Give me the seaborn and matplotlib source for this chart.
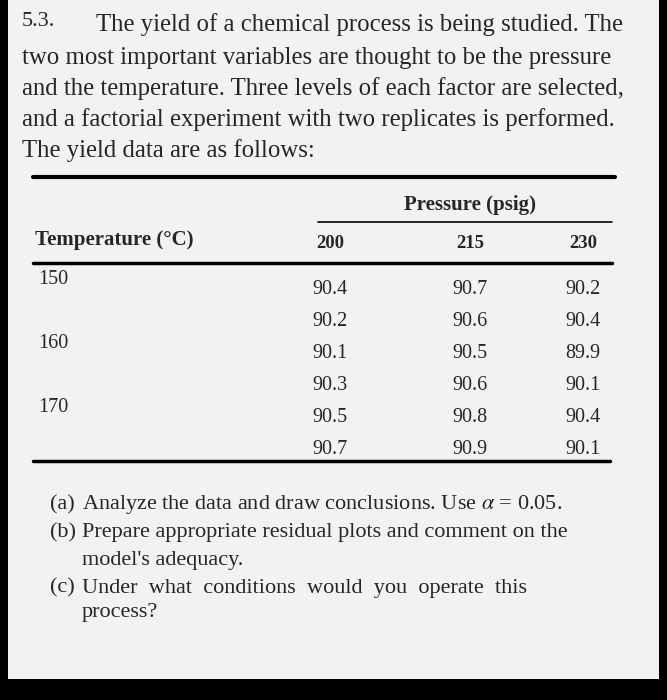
import matplotlib
matplotlib.use("Agg")
import matplotlib.pyplot as plt
import seaborn as sns

# problem text
intro = ["The yield of a chemical process is being studied. The",
         "two most important variables are thought to be the pressure",
         "and the temperature. Three levels of each factor are selected,",
         "and a factorial experiment with two replicates is performed.",
         "The yield data are as follows:"]
questions = [("(a)", "Analyze the data and draw conclusions. Use $\\alpha$ = 0.05."),
             ("(b)", "Prepare appropriate residual plots and comment on the"),
             ("", "model's adequacy."),
             ("(c)", "Under  what  conditions  would  you  operate  this"),
             ("", "process?")]

# table data
pressures = ["200", "215", "230"]
temperatures = ["150", "160", "170"]
yield_200 = [90.4, 90.2, 90.1, 90.3, 90.5, 90.7]
yield_215 = [90.7, 90.6, 90.5, 90.6, 90.8, 90.9]
yield_230 = [90.2, 90.4, 89.9, 90.1, 90.4, 90.1]

sns.set_theme(style="white")
plt.rcParams['font.family'] = ['Liberation Serif', 'DejaVu Serif']
plt.rcParams['mathtext.fontset'] = 'stix'

fig = plt.figure(figsize=(6.67, 7.0), dpi=100, facecolor="black")
ax = fig.add_axes([0.012, 0.03, 0.976, 0.97])
ax.set_facecolor("#f2f2f0")
ax.set_xlim(8, 659)
ax.set_ylim(679, 0)
ax.set_xticks([])
ax.set_yticks([])
for s in ax.spines.values():
    s.set_visible(False)

fs = 17.8
ax.text(22, 22, "5.3.", fontsize=16, va="center")
ax.text(96, 25, intro[0], fontsize=fs, va="center")
for i, line in enumerate(intro[1:]):
    ax.text(22, 58 + i * 31, line, fontsize=fs, va="center")

# table rules
ax.plot([33, 615], [177, 177], color="black", lw=3)
ax.plot([318, 612], [222, 222], color="black", lw=1.2)
ax.plot([33, 612], [263, 263], color="black", lw=2.5)
ax.plot([33, 610], [461, 461], color="black", lw=2.5)

ax.text(470, 205, "Pressure (psig)", fontsize=15, fontweight="bold", ha="center", va="center")
ax.text(35, 240, "Temperature (°C)", fontsize=15, fontweight="bold", va="center")
col_x = [330, 470, 583]
for x, p in zip(col_x, pressures):
    ax.text(x, 243, p, fontsize=13.5, fontweight="bold", ha="center", va="center")

row_y = [290, 322, 353, 386, 418, 449]
for i, t in enumerate(temperatures):
    ax.text(38, 280 + i * 64, t, fontsize=14.5, va="center")
for x, col in zip(col_x, [yield_200, yield_215, yield_230]):
    for y, v in zip(row_y, col):
        ax.text(x, y, f"{v:.1f}", fontsize=14.5, ha="center", va="center")

qy = [505, 533, 560, 588, 612]
for (lab, txt), y in zip(questions, qy):
    if lab:
        ax.text(50, y, lab, fontsize=16, va="center")
    ax.text(82, y, txt, fontsize=16, va="center")

fig.savefig("out.png", dpi=100, facecolor="black")
